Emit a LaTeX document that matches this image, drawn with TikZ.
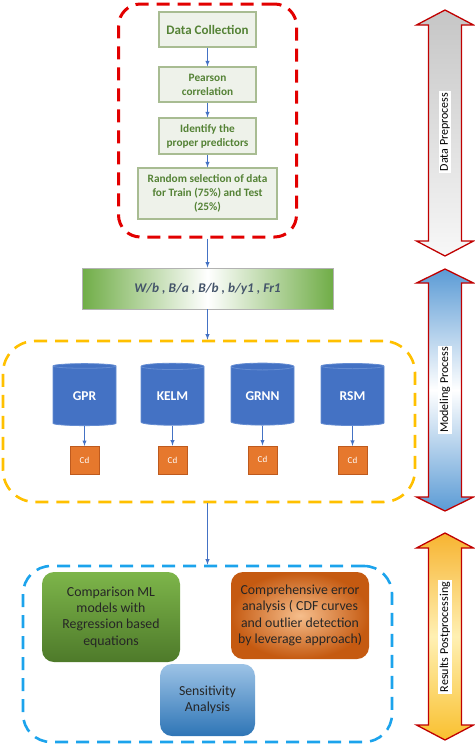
\documentclass[tikz,border=0pt]{standalone}
\usepackage{fontspec}
\setmainfont{Carlito}
\usetikzlibrary{shapes,arrows}
\usetikzlibrary{positioning}

\definecolor{stepgreen}{RGB}{84,130,53}
\definecolor{boxline}{RGB}{168,188,146}
\definecolor{boxfill}{RGB}{238,242,234}
\definecolor{connblue}{RGB}{68,114,196}
\definecolor{prered}{RGB}{226,0,0}
\definecolor{modyellow}{RGB}{255,192,0}
\definecolor{resblue}{RGB}{28,163,236}
\definecolor{bargreen}{RGB}{112,173,71}
\definecolor{bartext}{RGB}{68,84,106}
\definecolor{cylblue}{RGB}{68,114,196}
\definecolor{cylline}{RGB}{100,140,210}
\definecolor{cdorange}{RGB}{230,120,45}
\definecolor{cdline}{RGB}{190,90,30}
\definecolor{darktext}{RGB}{38,38,38}
\definecolor{arrowred}{RGB}{192,0,0}

\begin{document}
\begin{tikzpicture}[x=1pt,y=-1pt,
  stepbox/.style={draw=boxline,line width=1.2pt,fill=boxfill,text=stepgreen,font=\bfseries\fontsize{11.3}{14}\selectfont,align=center,inner sep=2pt},
  conn/.style={draw=connblue,line width=0.9pt,-latex},
  group/.style={line width=2.6pt,dash pattern=on 13pt off 8pt},
  model/.style={cylinder,shape border rotate=90,aspect=0.2,draw=cylline,line width=0.8pt,fill=cylblue,text=white,font=\bfseries\fontsize{13.5}{15}\selectfont,minimum width=63pt,minimum height=62pt,inner sep=0pt},
  cdbox/.style={draw=cdline,line width=0.6pt,fill=cdorange,text=white,font=\fontsize{9}{10}\selectfont,minimum width=29pt,minimum height=28pt,inner sep=0pt},
  resultbox/.style={rounded corners=12pt,text=darktext,font=\fontsize{13.8}{16.3}\selectfont,align=center,inner sep=0pt},
  stage/.style={draw=arrowred,line width=1.3pt,line join=miter},
  stagelabel/.style={rotate=90,fill=white,inner sep=1.5pt,font=\fontsize{12}{14}\selectfont}]
\useasboundingbox (0,0) rectangle (474,744);

\node[group,draw=prered,line width=3pt,rounded corners=22pt,minimum width=178pt,minimum height=233pt] (pre) at (207.5,120.5) {};
\node[group,draw=modyellow,rounded corners=32pt,minimum width=412pt,minimum height=161pt] (models) at (209,421.5) {};
\node[group,draw=resblue,rounded corners=28pt,minimum width=369pt,minimum height=176pt] (results) at (207.5,654) {};

\node[stepbox,font=\bfseries\fontsize{13}{15}\selectfont,minimum width=97pt,minimum height=35pt] (collect) at (207.5,29.5) {Data Collection};
\node[stepbox,minimum width=97pt,minimum height=35pt] (pearson) at (207.5,84.5) {Pearson\\correlation};
\node[stepbox,minimum width=97pt,minimum height=36pt] (identify) at (207.5,136) {Identify the\\proper predictors};
\node[stepbox,minimum width=139pt,minimum height=51pt] (split) at (207.5,193.5) {Random selection of data\\for Train (75\%) and Test\\(25\%)};

\node[draw=gray!60,line width=0.8pt,left color=bargreen,right color=bargreen,middle color=white,text=bartext,font=\bfseries\itshape\fontsize{13.3}{15}\selectfont,minimum width=251pt,minimum height=41pt] (inputs) at (207.5,288.5) {W/b , B/a , B/b , b/y1 , Fr1};

\node[model] (gpr) at (84.5,396) {GPR};
\node[model] (kelm) at (172.5,396) {KELM};
\node[model] (grnn) at (262.5,396) {GRNN};
\node[model] (rsm) at (352.5,396) {RSM};
\node[cdbox,below=20pt of gpr] (cdgpr) {Cd};
\node[cdbox,below=20pt of kelm] (cdkelm) {Cd};
\node[cdbox,below=20pt of grnn] (cdgrnn) {Cd};
\node[cdbox,below=20pt of rsm] (cdrsm) {Cd};

\node[resultbox,top color={rgb,255:red,125;green,181;blue,74},bottom color={rgb,255:red,78;green,122;blue,42},minimum width=138pt,minimum height=90pt] (compare) at (111,617) {Comparison ML\\models with\\Regression based\\equations};
\node[resultbox,inner color={rgb,255:red,246;green,190;blue,140},outer color={rgb,255:red,197;green,90;blue,17},minimum width=138pt,minimum height=87pt] (errors) at (300,615.5) {Comprehensive error\\analysis ( CDF curves\\and outlier detection\\by leverage approach)};
\node[resultbox,top color={rgb,255:red,157;green,195;blue,230},bottom color={rgb,255:red,46;green,117;blue,182},minimum width=95pt,minimum height=72pt] (sensitivity) at (207.5,700) {Sensitivity\\Analysis};

\draw[conn] (collect) -- (pearson);
\draw[conn] (pearson) -- (identify);
\draw[conn] (identify) -- (split);
\draw[conn] (pre) -- (inputs);
\draw[conn] (inputs) -- (inputs |- models.north);
\draw[conn] (gpr) -- (cdgpr);
\draw[conn] (kelm) -- (cdkelm);
\draw[conn] (grnn) -- (cdgrnn);
\draw[conn] (rsm) -- (cdrsm);
\draw[conn] (inputs |- models.south) -- (inputs |- results.north);

\path[stage,top color=gray!45,bottom color=gray!6] (445,10) -- (473.5,25) -- (461.5,25) -- (461.5,241) -- (473.5,241) -- (445,256) -- (416.5,241) -- (428.5,241) -- (428.5,25) -- (416.5,25) -- cycle;
\path[stage,top color={rgb,255:red,91;green,155;blue,213},bottom color={rgb,255:red,91;green,155;blue,213},middle color=white] (445,269) -- (473.5,283) -- (461.5,283) -- (461.5,497) -- (473.5,497) -- (445,511) -- (416.5,497) -- (428.5,497) -- (428.5,283) -- (416.5,283) -- cycle;
\path[stage,top color={rgb,255:red,247;green,180;blue,49},bottom color={rgb,255:red,249;green,192;blue,47},middle color={rgb,255:red,255;green,240;blue,179}] (445,533) -- (473.5,548) -- (461.5,548) -- (461.5,725) -- (473.5,725) -- (445,740) -- (416.5,725) -- (428.5,725) -- (428.5,548) -- (416.5,548) -- cycle;
\node[stagelabel] (lblpre) at (445,132) {Data Preprocess};
\node[stagelabel] (lblmod) at (445,390) {Modeling Process};
\node[stagelabel] (lblres) at (445,637) {Results Postprocessing};
\end{tikzpicture}
\end{document}
